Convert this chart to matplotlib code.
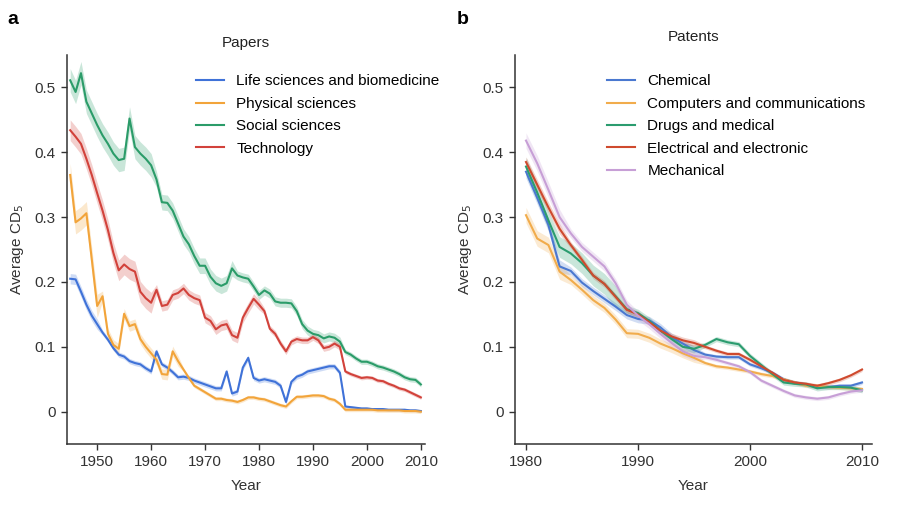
import numpy as np
import matplotlib
matplotlib.use("Agg")
import matplotlib.pyplot as plt

plt.rcParams['font.family'] = ['Liberation Sans', 'DejaVu Sans']

# ---- Papers (panel a) ----
paper_years = list(range(1945, 2011))
paper_labels = ['Life sciences and biomedicine', 'Physical sciences',
                'Social sciences', 'Technology']
life = [0.205, 0.204, 0.185, 0.165, 0.148, 0.135, 0.122, 0.111, 0.098, 0.088,
        0.085, 0.078, 0.075, 0.073, 0.067, 0.062, 0.093, 0.073, 0.068, 0.061,
        0.053, 0.054, 0.052, 0.048, 0.045, 0.042, 0.039, 0.036, 0.036, 0.062,
        0.028, 0.031, 0.068, 0.083, 0.052, 0.048, 0.050, 0.048, 0.046, 0.040,
        0.015, 0.046, 0.054, 0.057, 0.062, 0.064, 0.066, 0.068, 0.070, 0.070,
        0.060, 0.008, 0.007, 0.006, 0.005, 0.005, 0.004, 0.004, 0.004, 0.003,
        0.003, 0.003, 0.003, 0.002, 0.002, 0.001]
physical = [0.365, 0.292, 0.298, 0.306, 0.235, 0.163, 0.178, 0.120, 0.103, 0.097,
            0.151, 0.132, 0.135, 0.112, 0.100, 0.090, 0.080, 0.058, 0.057, 0.093,
            0.078, 0.065, 0.052, 0.040, 0.035, 0.030, 0.025, 0.020, 0.020, 0.018,
            0.017, 0.015, 0.018, 0.022, 0.022, 0.020, 0.019, 0.016, 0.013, 0.010,
            0.008, 0.016, 0.023, 0.023, 0.024, 0.025, 0.025, 0.024, 0.020, 0.018,
            0.012, 0.003, 0.003, 0.003, 0.003, 0.003, 0.003, 0.002, 0.002, 0.002,
            0.002, 0.002, 0.001, 0.001, 0.001, 0.000]
social = [0.511, 0.493, 0.522, 0.478, 0.460, 0.442, 0.426, 0.413, 0.398, 0.388,
          0.390, 0.452, 0.408, 0.398, 0.390, 0.380, 0.358, 0.323, 0.322, 0.310,
          0.290, 0.270, 0.258, 0.240, 0.225, 0.225, 0.208, 0.198, 0.194, 0.198,
          0.221, 0.210, 0.207, 0.205, 0.193, 0.180, 0.187, 0.182, 0.170, 0.168,
          0.168, 0.167, 0.155, 0.135, 0.125, 0.120, 0.118, 0.113, 0.116, 0.114,
          0.108, 0.092, 0.088, 0.082, 0.077, 0.077, 0.074, 0.070, 0.068, 0.065,
          0.062, 0.058, 0.053, 0.050, 0.049, 0.042]
technology = [0.434, 0.424, 0.413, 0.390, 0.365, 0.337, 0.310, 0.280, 0.245, 0.218,
              0.227, 0.220, 0.216, 0.185, 0.175, 0.168, 0.188, 0.163, 0.165, 0.180,
              0.183, 0.190, 0.180, 0.175, 0.172, 0.145, 0.140, 0.127, 0.133, 0.135,
              0.118, 0.114, 0.145, 0.160, 0.174, 0.165, 0.155, 0.128, 0.120, 0.105,
              0.093, 0.108, 0.112, 0.110, 0.110, 0.115, 0.110, 0.098, 0.100, 0.105,
              0.100, 0.062, 0.058, 0.055, 0.052, 0.053, 0.052, 0.048, 0.047, 0.043,
              0.040, 0.036, 0.034, 0.030, 0.026, 0.022]
# half-width of the shaded confidence band
life_err = [0.008] * 6 + [0.004] * 45 + [0.002] * 15
physical_err = [0.018] * 6 + [0.008] * 15 + [0.003] * 45
social_err = [0.018] * 16 + [0.012] * 15 + [0.007] * 20 + [0.004] * 15
technology_err = [0.016] * 16 + [0.008] * 20 + [0.005] * 15 + [0.003] * 15

# ---- Patents (panel b) ----
patent_years = list(range(1980, 2011))
patent_labels = ['Chemical', 'Computers and communications', 'Drugs and medical',
                 'Electrical and electronic', 'Mechanical']
chemical = [0.370, 0.330, 0.288, 0.224, 0.217, 0.199, 0.186, 0.174, 0.162, 0.149,
            0.143, 0.141, 0.130, 0.115, 0.105, 0.095, 0.088, 0.085, 0.084, 0.084,
            0.073, 0.067, 0.060, 0.050, 0.045, 0.042, 0.038, 0.038, 0.040, 0.040,
            0.045]
computers = [0.303, 0.267, 0.257, 0.216, 0.203, 0.188, 0.172, 0.160, 0.142, 0.121,
             0.120, 0.114, 0.105, 0.098, 0.090, 0.083, 0.075, 0.070, 0.068, 0.065,
             0.062, 0.058, 0.055, 0.050, 0.045, 0.040, 0.040, 0.038, 0.037, 0.036,
             0.035]
drugs = [0.378, 0.338, 0.295, 0.254, 0.244, 0.229, 0.210, 0.197, 0.178, 0.158,
         0.152, 0.140, 0.125, 0.112, 0.100, 0.097, 0.103, 0.112, 0.107, 0.104,
         0.086, 0.072, 0.058, 0.045, 0.043, 0.042, 0.036, 0.038, 0.038, 0.037,
         0.033]
electrical = [0.385, 0.350, 0.315, 0.282, 0.257, 0.234, 0.210, 0.197, 0.177, 0.157,
              0.150, 0.138, 0.125, 0.116, 0.110, 0.106, 0.100, 0.094, 0.089, 0.089,
              0.080, 0.070, 0.060, 0.049, 0.045, 0.043, 0.040, 0.044, 0.049, 0.056,
              0.065]
mechanical = [0.418, 0.383, 0.342, 0.300, 0.275, 0.254, 0.239, 0.224, 0.198, 0.165,
              0.148, 0.135, 0.120, 0.106, 0.093, 0.086, 0.084, 0.080, 0.075, 0.070,
              0.061, 0.048, 0.040, 0.032, 0.025, 0.022, 0.020, 0.022, 0.027, 0.031,
              0.033]
chemical_err = [0.010] * 4 + [0.006] * 12 + [0.003] * 15
computers_err = [0.012] * 4 + [0.007] * 12 + [0.003] * 15
drugs_err = [0.014] * 3 + [0.016] * 6 + [0.006] * 7 + [0.004] * 15
electrical_err = [0.008] * 4 + [0.005] * 12 + [0.003] * 15
mechanical_err = [0.012] * 4 + [0.007] * 12 + [0.003] * 15

paper_colors = ['#3f72d8', '#f2a43a', '#2b9c69', '#d2423b']
patent_colors = ['#4a78d0', '#f1ac4c', '#2b9c6f', '#cf4a2e', '#c79fd6']

FS = 11

fig = plt.figure(figsize=(9, 5.14), dpi=100)
ax1 = fig.add_axes([0.0744, 0.136, 0.398, 0.757])
ax2 = fig.add_axes([0.572, 0.136, 0.397, 0.757])


def style(ax):
    for s in ['top', 'right']:
        ax.spines[s].set_visible(False)
    for s in ['left', 'bottom']:
        ax.spines[s].set_color('#333333')
        ax.spines[s].set_linewidth(1.1)
    ax.tick_params(direction='out', length=4, width=1, colors='#333333',
                   labelsize=FS, labelcolor='#333333', pad=4)
    ax.set_ylim(-0.05, 0.55)
    ax.set_yticks([0, 0.1, 0.2, 0.3, 0.4, 0.5])
    ax.set_yticklabels(['0', '0.1', '0.2', '0.3', '0.4', '0.5'])
    ax.set_xlabel('Year', fontsize=FS, color='#333333', labelpad=7)
    ax.set_ylabel('Average CD$_5$', fontsize=FS, color='#333333', labelpad=6)


paper_series = [(life, life_err), (physical, physical_err),
                (social, social_err), (technology, technology_err)]
py = np.array(paper_years)
for (vals, err), c, lab in zip(paper_series, paper_colors, paper_labels):
    v = np.array(vals)
    e = np.array(err)
    ax1.fill_between(py, v - e, v + e, color=c, alpha=0.25, lw=0)
    ax1.plot(py, v, color=c, lw=1.5, label=lab)

patent_series = [(chemical, chemical_err), (computers, computers_err),
                 (drugs, drugs_err), (electrical, electrical_err),
                 (mechanical, mechanical_err)]
ty = np.array(patent_years)
for (vals, err), c, lab in zip(patent_series, patent_colors, patent_labels):
    v = np.array(vals)
    e = np.array(err)
    ax2.fill_between(ty, v - e, v + e, color=c, alpha=0.25, lw=0)
    ax2.plot(ty, v, color=c, lw=1.5, label=lab)

style(ax1)
style(ax2)
ax1.set_xlim(1944.4, 2010.8)
ax1.set_xticks([1950, 1960, 1970, 1980, 1990, 2000, 2010])
ax2.set_xlim(1979.0, 2010.9)
ax2.set_xticks([1980, 1990, 2000, 2010])

ax1.set_title('Papers', fontsize=FS, color='#222222', pad=6)
ax2.set_title('Patents', fontsize=FS, color='#222222', pad=10)

ax1.legend(loc='upper left', bbox_to_anchor=(0.36, 0.95), frameon=False,
           fontsize=FS, handlelength=1.85, handletextpad=0.8,
           labelspacing=0.55, borderpad=0, borderaxespad=0)
ax2.legend(loc='upper left', bbox_to_anchor=(0.258, 0.95), frameon=False,
           fontsize=FS, handlelength=1.85, handletextpad=0.8,
           labelspacing=0.55, borderpad=0, borderaxespad=0)

fig.text(0.008, 0.963, 'a', fontsize=14, fontweight='bold', va='center')
fig.text(0.508, 0.963, 'b', fontsize=14, fontweight='bold', va='center')

fig.savefig('out.png', dpi=100)
